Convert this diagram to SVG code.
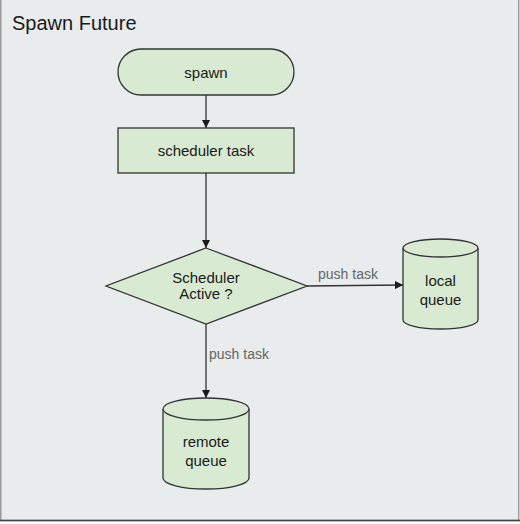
<svg xmlns="http://www.w3.org/2000/svg" width="520" height="524" viewBox="0 0 520 524">
<defs>
<style>
.node{fill:#d9ead3;stroke:#333;stroke-width:1.3}
.t{font-family:"Liberation Sans",Arial,sans-serif;font-size:15px;fill:#1a1a1a;text-anchor:middle}
.lbl{font-family:"Liberation Sans",Arial,sans-serif;font-size:14px;fill:#666}
.edge{stroke:#333;stroke-width:1.3;fill:none;marker-end:url(#arr)}
</style>
<marker id="arr" viewBox="0 0 10 10" refX="10" refY="5" markerWidth="8" markerHeight="8" orient="auto" markerUnits="userSpaceOnUse">
<path d="M0,0 L10,5 L0,10 z" fill="#1a1a1a"/>
</marker>
</defs>
<rect x="0" y="0" width="520" height="524" fill="#ffffff"/>
<rect x="0.75" y="-2" width="518" height="522.5" fill="#e8ecec" stroke="#9a9a9a" stroke-width="1.5"/>
<line x1="0" y1="520.5" x2="520" y2="520.5" stroke="#444" stroke-width="1.5"/>
<text x="12" y="30" font-family="'Liberation Sans',Arial,sans-serif" font-size="20" fill="#1a1a1a">Spawn Future</text>
<g id="connectors">
<line class="edge" x1="206" y1="95" x2="206" y2="128"/>
<line class="edge" x1="206" y1="173" x2="206" y2="248"/>
<line class="edge" x1="307" y1="286" x2="403" y2="285"/>
<line class="edge" x1="206" y1="324" x2="206" y2="398"/>
<text class="lbl" x="318" y="279">push task</text>
<text class="lbl" x="209" y="359">push task</text>
</g>
<g id="spawn">
<rect class="node" x="118" y="49" width="176" height="46" rx="23"/>
<text class="t" x="206" y="78">spawn</text>
</g>
<g id="scheduler-task">
<rect class="node" x="118" y="128" width="176" height="45"/>
<text class="t" x="206" y="156">scheduler task</text>
</g>
<g id="scheduler-active">
<polygon class="node" points="206,248 307,286 206,324 106,286"/>
<text class="t" font-size="13" x="206" y="283">Scheduler</text>
<text class="t" font-size="13" x="206" y="299">Active ?</text>
</g>
<g id="local-queue">
<path class="node" d="M403,248 A37.5,9 0 0 1 478,248 V320 A37.5,9 0 0 1 403,320 Z"/>
<path class="node" d="M403,248 A37.5,9 0 0 0 478,248"/>
<text class="t" x="440.5" y="286">local</text>
<text class="t" x="440.5" y="305">queue</text>
</g>
<g id="remote-queue">
<path class="node" d="M163,409 A43,11 0 0 1 249,409 V478 A43,11 0 0 1 163,478 Z"/>
<path class="node" d="M163,409 A43,11 0 0 0 249,409"/>
<text class="t" x="206" y="447">remote</text>
<text class="t" x="206" y="466">queue</text>
</g>
</svg>
